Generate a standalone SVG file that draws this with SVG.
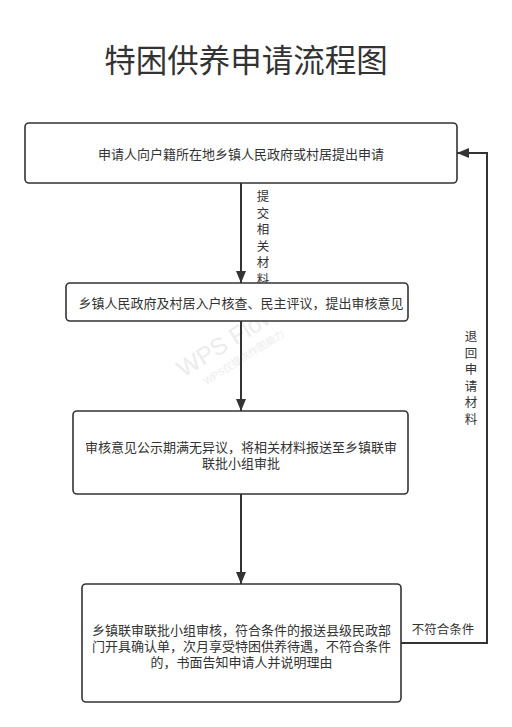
<svg xmlns="http://www.w3.org/2000/svg" width="512" height="727" viewBox="0 0 512 727">
<style>
.box{fill:#fff;stroke:#333;stroke-width:1.6}
.t{font-family:"Noto Sans CJK SC","Liberation Sans",sans-serif;font-size:13px;fill:#333;text-anchor:middle;dominant-baseline:central}
.lbl{font-family:"Noto Sans CJK SC","Liberation Sans",sans-serif;font-size:12.5px;fill:#333;text-anchor:middle;dominant-baseline:central}
.title{font-family:"Noto Sans CJK SC","Liberation Sans",sans-serif;font-size:31.5px;fill:#333;text-anchor:middle}
.ln{fill:none;stroke:#333;stroke-width:2}
.wm{font-family:"Liberation Sans","Noto Sans CJK SC",sans-serif;fill:#ececec;text-anchor:middle}
</style>
<defs>
<marker id="ah" viewBox="0 0 12 10" refX="12" refY="5" markerWidth="12" markerHeight="10" markerUnits="userSpaceOnUse" orient="auto">
<path d="M0,0 L12,5 L0,10 Z" fill="#333"/>
</marker>
</defs>
<rect width="512" height="727" fill="#fff"/>
<text class="title" x="246" y="72">特困供养申请流程图</text>
<g id="watermark" transform="rotate(-32 232 350)">
<text class="wm" x="232" y="348" font-size="24">WPS Flow</text>
<text class="wm" x="238" y="366" font-size="10">WPS仅提供作图能力</text>
</g>
<g id="connectors">
<line class="ln" x1="241" y1="183" x2="241" y2="283" marker-end="url(#ah)"/>
<line class="ln" x1="241" y1="321" x2="241" y2="411" marker-end="url(#ah)"/>
<line class="ln" x1="241" y1="494" x2="241" y2="584" marker-end="url(#ah)"/>
<polyline class="ln" points="401,643 487,643 487,153 457,153" marker-end="url(#ah)"/>
<text class="lbl"><tspan x="263" y="195">提</tspan><tspan x="263" y="211.5">交</tspan><tspan x="263" y="228">相</tspan><tspan x="263" y="244.5">关</tspan><tspan x="263" y="261">材</tspan><tspan x="263" y="277.5">料</tspan></text>
<text class="lbl"><tspan x="471" y="335">退</tspan><tspan x="471" y="351.5">回</tspan><tspan x="471" y="368">申</tspan><tspan x="471" y="384.5">请</tspan><tspan x="471" y="401">材</tspan><tspan x="471" y="417.5">料</tspan></text>
<text class="lbl" x="443" y="628">不符合条件</text>
</g>
<g id="n1">
<rect class="box" x="25" y="123" width="432" height="60" rx="4"/>
<text class="t" x="241" y="153">申请人向户籍所在地乡镇人民政府或村居提出申请</text>
</g>
<g id="n2">
<rect class="box" x="66" y="283" width="342" height="38" rx="4"/>
<text class="t" x="241" y="302">乡镇人民政府及村居入户核查、民主评议，提出审核意见</text>
</g>
<g id="n3">
<rect class="box" x="73" y="411" width="335" height="83" rx="4"/>
<text class="t"><tspan x="241" y="446">审核意见公示期满无异议，将相关材料报送至乡镇联审</tspan><tspan x="241" y="462">联批小组审批</tspan></text>
</g>
<g id="n4">
<rect class="box" x="82" y="584" width="319" height="118" rx="4"/>
<text class="t"><tspan x="241.5" y="629">乡镇联审联批小组审核，符合条件的报送县级民政部</tspan><tspan x="241.5" y="645">门开具确认单，次月享受特困供养待遇，不符合条件</tspan><tspan x="241.5" y="661">的，书面告知申请人并说明理由</tspan></text>
</g>
</svg>
